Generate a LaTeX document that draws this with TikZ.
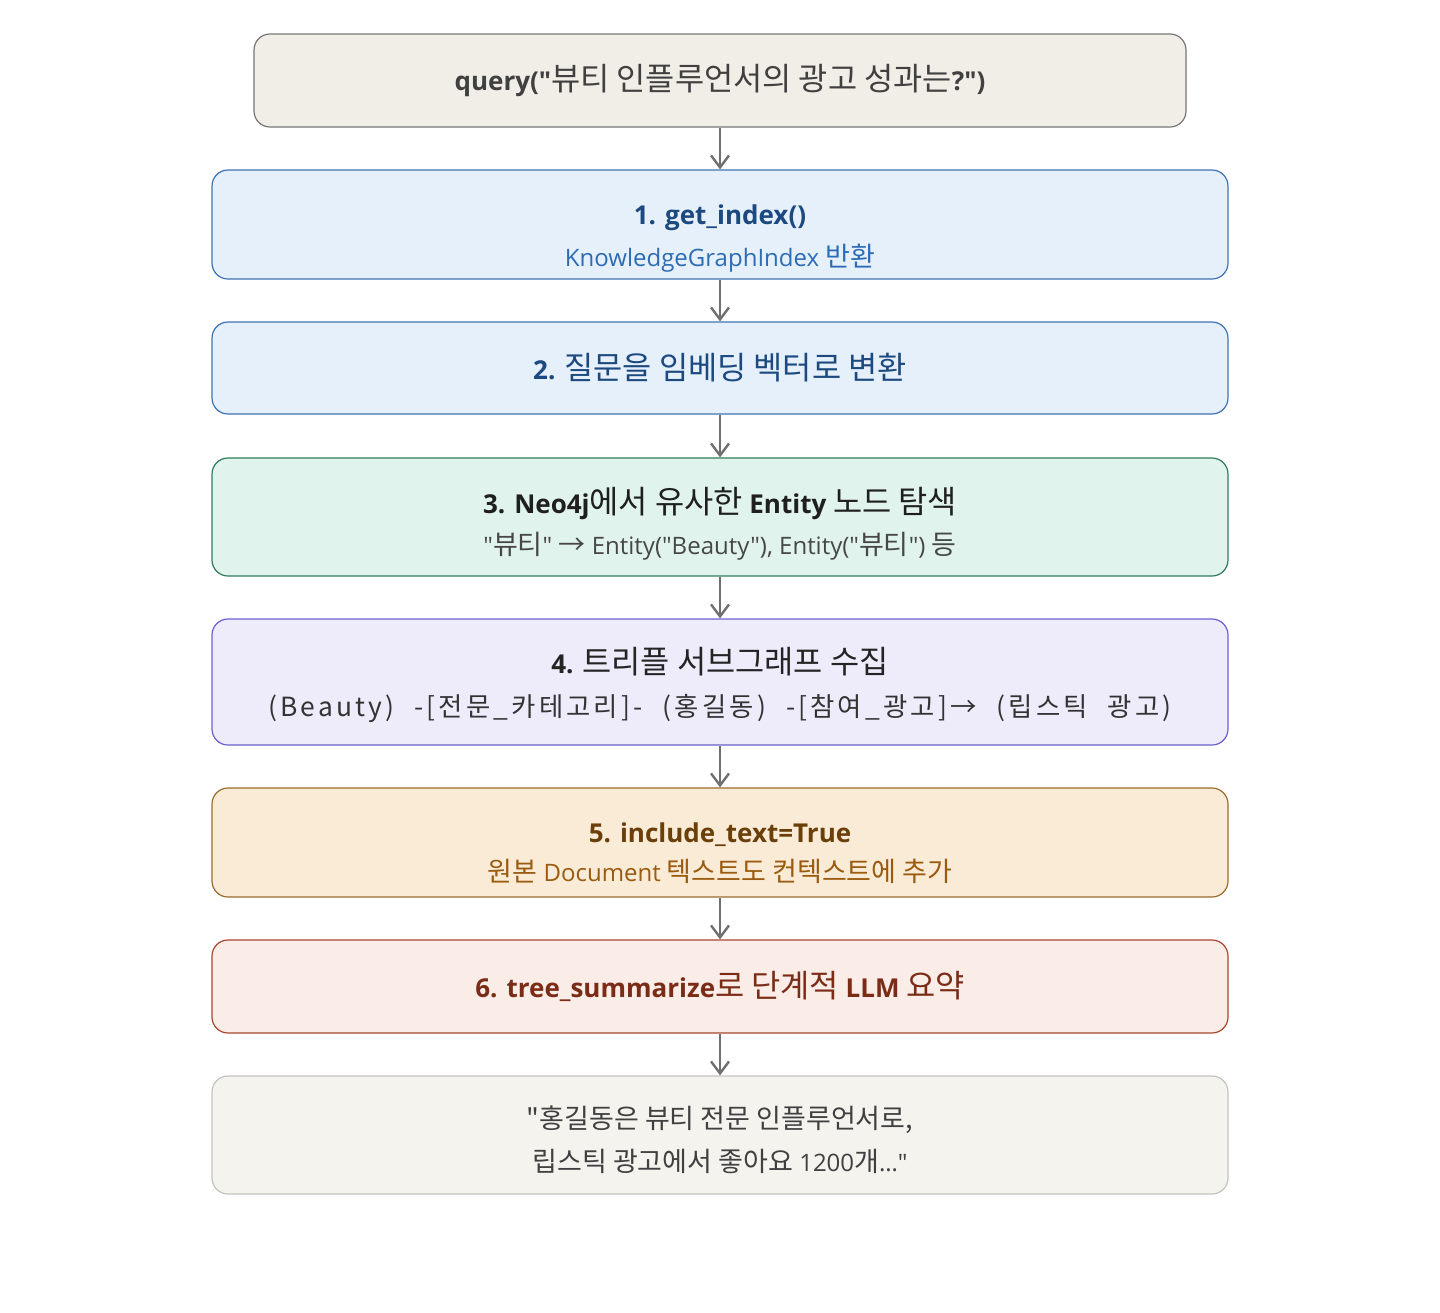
\documentclass[tikz,border=0pt]{standalone}
\usepackage{fontspec}
\setmainfont{Open Sans}[Ligatures=TeXOff]
\newfontfamily\kr[Scale=1.125]{Noto Sans CJK KR}
\newfontfamily\krt[Scale=1.22]{Noto Sans CJK KR}
\newfontfamily\krwide[Scale=1.1,LetterSpace=12,WordSpace=2.2]{Noto Sans CJK KR}
\newcommand{\ko}[1]{{\kr\mdseries #1}}
\newcommand{\kot}[1]{{\krt\mdseries #1}}
\usetikzlibrary{arrows.meta}
\definecolor{qfond}{HTML}{F1EEE7}
\definecolor{qbord}{HTML}{777777}
\definecolor{qtexte}{HTML}{404040}
\definecolor{bleufond}{HTML}{E6F0FA}
\definecolor{bleubord}{HTML}{3F73B3}
\definecolor{bleutitre}{HTML}{1C4A80}
\definecolor{bleusous}{HTML}{2B6CB5}
\definecolor{vertfond}{HTML}{E0F3EC}
\definecolor{vertbord}{HTML}{2F7D5C}
\definecolor{violetfond}{HTML}{EEECFB}
\definecolor{violetbord}{HTML}{6C5FCF}
\definecolor{orfond}{HTML}{FAEBD7}
\definecolor{orbord}{HTML}{9C6B30}
\definecolor{ortitre}{HTML}{6B3F0A}
\definecolor{orsous}{HTML}{9A5B0F}
\definecolor{rougefond}{HTML}{FAECE7}
\definecolor{rougebord}{HTML}{A8472F}
\definecolor{rougetitre}{HTML}{7A2C17}
\definecolor{resfond}{HTML}{F4F3EE}
\definecolor{resbord}{HTML}{C4C4BE}
\definecolor{flechegris}{HTML}{707070}
\begin{document}
\begin{tikzpicture}[x=0.5pt,y=-0.5pt]
	\tikzset{boite/.style={rectangle, rounded corners=8pt, line width=0.6pt, minimum width=508pt, text centered, font=\fontsize{13}{20}\selectfont\bfseries},
	titre/.style={inner sep=0pt, text height=12pt, text depth=0pt, font=\fontsize{13}{20}\selectfont\bfseries},
	sous/.style={inner sep=0pt, text height=10pt, text depth=0pt, font=\fontsize{12}{20}\selectfont},
	fleche/.style={-{Straight Barb[length=6pt,width=9pt]}, line width=1.2pt, draw=flechegris}};
	\useasboundingbox (0,0) rectangle (1440,1312);

	% boites
	\node[boite, fill=qfond, draw=qbord, text=qtexte, minimum width=466pt, minimum height=46.5pt] (query) at (720,80.5)
		{query("\kot{뷰티 인플루언서의 광고 성과는}?")};
	\node[boite, fill=bleufond, draw=bleubord, minimum height=54.5pt] (s1) at (720,224.5) {};
	\node[boite, fill=bleufond, draw=bleubord, text=bleutitre, minimum height=46pt] (s2) at (720,368)
		{2. \kot{질문을 임베딩 벡터로 변환}};
	\node[boite, fill=vertfond, draw=vertbord, minimum height=59pt] (s3) at (720,517) {};
	\node[boite, fill=violetfond, draw=violetbord, minimum height=63pt] (s4) at (720,682) {};
	\node[boite, fill=orfond, draw=orbord, minimum height=54.5pt] (s5) at (720,842.5) {};
	\node[boite, fill=rougefond, draw=rougebord, text=rougetitre, minimum height=46.5pt] (s6) at (720,986.5)
		{6. tree\_summarize\kot{로 단계적} LLM \kot{요약}};
	\node[boite, fill=resfond, draw=resbord, minimum height=59pt] (res) at (720,1135) {};

	% textes
	\node[titre, text=bleutitre] (s1t) at (720,212) {1. get\_index()};
	\node[sous, text=bleusous] (s1s) at (720,256) {KnowledgeGraphIndex \ko{반환}};
	\node[titre, text=black!88] (s3t) at (720,501) {3. Neo4j\kot{에서 유사한} Entity \kot{노드 탐색}};
	\node[sous, text=black!72] (s3s) at (720,544) {"\ko{뷰티}" \ko{→} Entity("Beauty"), Entity("\ko{뷰티}") \ko{등}};
	\node[titre, text=black!86] (s4t) at (720,661) {4. \kot{트리플 서브그래프 수집}};
	\node[sous, text=black!80] (s4s) at (720,706) {\krwide (Beauty) -[전문\_카테고리]- (홍길동) -[참여\_광고]→ (립스틱 광고)};
	\node[titre, text=ortitre] (s5t) at (720,830) {5. include\_text=True};
	\node[sous, text=orsous] (s5s) at (720,871) {\ko{원본} Document \ko{텍스트도 컨텍스트에 추가}};
	\node[sous, text=qtexte] (rest) at (720,1118) {\ko{"홍길동은 뷰티 전문 인플루언서로,}};
	\node[sous, text=qtexte] (ress) at (720,1161) {\ko{립스틱 광고에서 좋아요} 1200\ko{개}…"};

	\foreach \a/\b in {query/s1, s1/s2, s2/s3, s3/s4, s4/s5, s5/s6, s6/res}
		\draw[fleche] (\a) -- (\b);
\end{tikzpicture}
\end{document}
